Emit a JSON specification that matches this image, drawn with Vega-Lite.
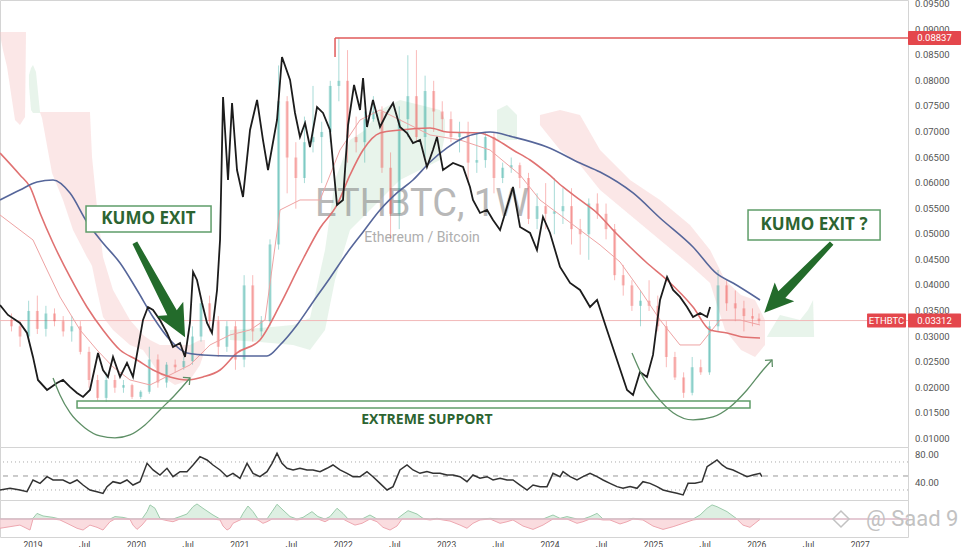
{
"$schema": "https://vega.github.io/schema/vega-lite/v6.json",
"background": "white",
"padding": {"left": -5, "top": -2, "right": 0, "bottom": 0},
"spacing": 0,
"bounds": "flush",
"config": {"view": {"stroke": "#d4d4d4", "strokeWidth": 1}, "text": {"font": "Roboto"}},
"datasets": {
"candles": [
{"t":2018.792,"o":0.0333,"h":0.0345,"l":0.0310,"c":0.0320},
{"t":2018.875,"o":0.0320,"h":0.0330,"l":0.0280,"c":0.0300},
{"t":2018.958,"o":0.0300,"h":0.0370,"l":0.0290,"c":0.0350},
{"t":2019.042,"o":0.0350,"h":0.0380,"l":0.0305,"c":0.0315},
{"t":2019.125,"o":0.0315,"h":0.0360,"l":0.0300,"c":0.0345},
{"t":2019.208,"o":0.0345,"h":0.0355,"l":0.0320,"c":0.0330},
{"t":2019.292,"o":0.0330,"h":0.0340,"l":0.0300,"c":0.0310},
{"t":2019.375,"o":0.0310,"h":0.0340,"l":0.0290,"c":0.0320},
{"t":2019.458,"o":0.0320,"h":0.0330,"l":0.0265,"c":0.0270},
{"t":2019.542,"o":0.0270,"h":0.0280,"l":0.0200,"c":0.0215},
{"t":2019.625,"o":0.0215,"h":0.0225,"l":0.0175,"c":0.0180},
{"t":2019.708,"o":0.0180,"h":0.0230,"l":0.0172,"c":0.0215},
{"t":2019.792,"o":0.0215,"h":0.0225,"l":0.0190,"c":0.0200},
{"t":2019.875,"o":0.0200,"h":0.0215,"l":0.0190,"c":0.0205},
{"t":2019.958,"o":0.0205,"h":0.0208,"l":0.0178,"c":0.0182},
{"t":2020.042,"o":0.0182,"h":0.0195,"l":0.0178,"c":0.0192},
{"t":2020.125,"o":0.0192,"h":0.0280,"l":0.0188,"c":0.0255},
{"t":2020.208,"o":0.0255,"h":0.0265,"l":0.0200,"c":0.0210},
{"t":2020.292,"o":0.0210,"h":0.0250,"l":0.0200,"c":0.0245},
{"t":2020.375,"o":0.0245,"h":0.0255,"l":0.0230,"c":0.0240},
{"t":2020.458,"o":0.0240,"h":0.0260,"l":0.0235,"c":0.0252},
{"t":2020.542,"o":0.0252,"h":0.0320,"l":0.0245,"c":0.0300},
{"t":2020.625,"o":0.0300,"h":0.0370,"l":0.0290,"c":0.0365},
{"t":2020.708,"o":0.0365,"h":0.0380,"l":0.0310,"c":0.0330},
{"t":2020.792,"o":0.0330,"h":0.0340,"l":0.0260,"c":0.0280},
{"t":2020.875,"o":0.0280,"h":0.0330,"l":0.0270,"c":0.0320},
{"t":2020.958,"o":0.0320,"h":0.0330,"l":0.0235,"c":0.0255},
{"t":2021.042,"o":0.0255,"h":0.0420,"l":0.0240,"c":0.0400},
{"t":2021.125,"o":0.0400,"h":0.0420,"l":0.0290,"c":0.0310},
{"t":2021.208,"o":0.0310,"h":0.0340,"l":0.0300,"c":0.0330},
{"t":2021.292,"o":0.0330,"h":0.0490,"l":0.0320,"c":0.0480},
{"t":2021.375,"o":0.0480,"h":0.0830,"l":0.0470,"c":0.0760},
{"t":2021.458,"o":0.0760,"h":0.0770,"l":0.0580,"c":0.0650},
{"t":2021.542,"o":0.0650,"h":0.0680,"l":0.0550,"c":0.0610},
{"t":2021.625,"o":0.0610,"h":0.0730,"l":0.0600,"c":0.0680},
{"t":2021.708,"o":0.0680,"h":0.0790,"l":0.0660,"c":0.0690},
{"t":2021.792,"o":0.0690,"h":0.0720,"l":0.0600,"c":0.0700},
{"t":2021.875,"o":0.0700,"h":0.0800,"l":0.0680,"c":0.0790},
{"t":2021.958,"o":0.0790,"h":0.0884,"l":0.0760,"c":0.0800},
{"t":2022.042,"o":0.0800,"h":0.0860,"l":0.0640,"c":0.0690},
{"t":2022.125,"o":0.0690,"h":0.0730,"l":0.0660,"c":0.0680},
{"t":2022.208,"o":0.0680,"h":0.0740,"l":0.0640,"c":0.0725},
{"t":2022.292,"o":0.0725,"h":0.0770,"l":0.0720,"c":0.0740},
{"t":2022.375,"o":0.0740,"h":0.0750,"l":0.0620,"c":0.0630},
{"t":2022.458,"o":0.0630,"h":0.0660,"l":0.0490,"c":0.0540},
{"t":2022.542,"o":0.0540,"h":0.0750,"l":0.0510,"c":0.0725},
{"t":2022.625,"o":0.0725,"h":0.0850,"l":0.0690,"c":0.0770},
{"t":2022.708,"o":0.0770,"h":0.0860,"l":0.0680,"c":0.0690},
{"t":2022.792,"o":0.0690,"h":0.0810,"l":0.0650,"c":0.0780},
{"t":2022.875,"o":0.0780,"h":0.0800,"l":0.0700,"c":0.0740},
{"t":2022.958,"o":0.0740,"h":0.0760,"l":0.0700,"c":0.0725},
{"t":2023.042,"o":0.0725,"h":0.0740,"l":0.0680,"c":0.0690},
{"t":2023.125,"o":0.0690,"h":0.0720,"l":0.0660,"c":0.0700},
{"t":2023.208,"o":0.0700,"h":0.0720,"l":0.0600,"c":0.0640},
{"t":2023.292,"o":0.0640,"h":0.0700,"l":0.0620,"c":0.0645},
{"t":2023.375,"o":0.0645,"h":0.0700,"l":0.0630,"c":0.0690},
{"t":2023.458,"o":0.0690,"h":0.0700,"l":0.0580,"c":0.0610},
{"t":2023.542,"o":0.0610,"h":0.0640,"l":0.0600,"c":0.0630},
{"t":2023.625,"o":0.0630,"h":0.0650,"l":0.0620,"c":0.0635},
{"t":2023.708,"o":0.0635,"h":0.0640,"l":0.0590,"c":0.0610},
{"t":2023.792,"o":0.0610,"h":0.0620,"l":0.0520,"c":0.0530},
{"t":2023.875,"o":0.0530,"h":0.0580,"l":0.0510,"c":0.0555},
{"t":2023.958,"o":0.0555,"h":0.0600,"l":0.0510,"c":0.0540},
{"t":2024.042,"o":0.0540,"h":0.0610,"l":0.0500,"c":0.0545},
{"t":2024.125,"o":0.0545,"h":0.0590,"l":0.0520,"c":0.0555},
{"t":2024.208,"o":0.0555,"h":0.0590,"l":0.0480,"c":0.0510},
{"t":2024.292,"o":0.0510,"h":0.0530,"l":0.0460,"c":0.0500},
{"t":2024.375,"o":0.0500,"h":0.0570,"l":0.0450,"c":0.0560},
{"t":2024.458,"o":0.0560,"h":0.0580,"l":0.0530,"c":0.0540},
{"t":2024.542,"o":0.0540,"h":0.0560,"l":0.0490,"c":0.0510},
{"t":2024.625,"o":0.0510,"h":0.0520,"l":0.0410,"c":0.0420},
{"t":2024.708,"o":0.0420,"h":0.0440,"l":0.0380,"c":0.0400},
{"t":2024.792,"o":0.0400,"h":0.0410,"l":0.0350,"c":0.0360},
{"t":2024.875,"o":0.0360,"h":0.0390,"l":0.0320,"c":0.0370},
{"t":2024.958,"o":0.0370,"h":0.0410,"l":0.0350,"c":0.0360},
{"t":2025.042,"o":0.0360,"h":0.0380,"l":0.0310,"c":0.0320},
{"t":2025.125,"o":0.0320,"h":0.0330,"l":0.0240,"c":0.0260},
{"t":2025.208,"o":0.0260,"h":0.0270,"l":0.0215,"c":0.0220},
{"t":2025.292,"o":0.0220,"h":0.0230,"l":0.0180,"c":0.0190},
{"t":2025.375,"o":0.0190,"h":0.0260,"l":0.0185,"c":0.0240},
{"t":2025.458,"o":0.0240,"h":0.0255,"l":0.0225,"c":0.0230},
{"t":2025.542,"o":0.0230,"h":0.0330,"l":0.0225,"c":0.0320},
{"t":2025.625,"o":0.0320,"h":0.0430,"l":0.0310,"c":0.0400},
{"t":2025.708,"o":0.0400,"h":0.0410,"l":0.0350,"c":0.0365},
{"t":2025.792,"o":0.0365,"h":0.0390,"l":0.0330,"c":0.0355},
{"t":2025.875,"o":0.0355,"h":0.0370,"l":0.0310,"c":0.0340},
{"t":2025.958,"o":0.0340,"h":0.0355,"l":0.0320,"c":0.0335},
{"t":2026.021,"o":0.0335,"h":0.0345,"l":0.0325,"c":0.0331}
],
"black": [
{"t":2018.681,"v":0.03617},{"t":2018.758,"v":0.03422},{"t":2018.874,"v":0.03265},{"t":2018.942,"v":0.0307},{"t":2019.0,"v":0.02601},{"t":2019.048,"v":0.02151},{"t":2019.136,"v":0.01955},{"t":2019.232,"v":0.02092},{"t":2019.290,"v":0.02151},{"t":2019.358,"v":0.02014},{"t":2019.426,"v":0.01897},{"t":2019.484,"v":0.01819},{"t":2019.551,"v":0.01955},{"t":2019.629,"v":0.02679},{"t":2019.677,"v":0.02346},{"t":2019.725,"v":0.0221},{"t":2019.774,"v":0.02601},{"t":2019.842,"v":0.0221},{"t":2019.909,"v":0.02483},{"t":2019.967,"v":0.0221},{"t":2020.064,"v":0.03324},{"t":2020.112,"v":0.03578},{"t":2020.161,"v":0.03519},{"t":2020.228,"v":0.03324},{"t":2020.296,"v":0.0307},{"t":2020.354,"v":0.02796},{"t":2020.422,"v":0.02874},{"t":2020.470,"v":0.02601},{"t":2020.518,"v":0.03265},{"t":2020.548,"v":0.04262},{"t":2020.586,"v":0.04106},{"t":2020.635,"v":0.03656},{"t":2020.683,"v":0.03265},{"t":2020.731,"v":0.0307},{"t":2020.780,"v":0.0391},{"t":2020.809,"v":0.04888},{"t":2020.838,"v":0.07684},{"t":2020.886,"v":0.06061},{"t":2020.925,"v":0.07566},{"t":2020.973,"v":0.06256},{"t":2021.031,"v":0.05729},{"t":2021.099,"v":0.07038},{"t":2021.167,"v":0.07625},{"t":2021.224,"v":0.06843},{"t":2021.273,"v":0.06256},{"t":2021.360,"v":0.07234},{"t":2021.408,"v":0.08466},{"t":2021.486,"v":0.08016},{"t":2021.534,"v":0.07371},{"t":2021.582,"v":0.06902},{"t":2021.631,"v":0.07175},{"t":2021.679,"v":0.06706},{"t":2021.747,"v":0.07488},{"t":2021.805,"v":0.07371},{"t":2021.872,"v":0.07038},{"t":2021.940,"v":0.05572},{"t":2021.998,"v":0.0567},{"t":2022.047,"v":0.07136},{"t":2022.105,"v":0.07918},{"t":2022.163,"v":0.0743},{"t":2022.192,"v":0.08055},{"t":2022.230,"v":0.07097},{"t":2022.288,"v":0.07625},{"t":2022.356,"v":0.07097},{"t":2022.424,"v":0.07371},{"t":2022.482,"v":0.07566},{"t":2022.549,"v":0.07097},{"t":2022.617,"v":0.0698},{"t":2022.675,"v":0.06784},{"t":2022.743,"v":0.06843},{"t":2022.810,"v":0.06315},{"t":2022.868,"v":0.06647},{"t":2022.907,"v":0.06902},{"t":2022.965,"v":0.06256},{"t":2023.062,"v":0.06393},{"t":2023.159,"v":0.06315},{"t":2023.226,"v":0.05924},{"t":2023.255,"v":0.0567},{"t":2023.323,"v":0.05416},{"t":2023.391,"v":0.05474},{"t":2023.449,"v":0.05279},{"t":2023.517,"v":0.05083},{"t":2023.584,"v":0.05533},{"t":2023.642,"v":0.05924},{"t":2023.710,"v":0.05142},{"t":2023.807,"v":0.05025},{"t":2023.874,"v":0.04692},{"t":2023.932,"v":0.05338},{"t":2024.0,"v":0.05025},{"t":2024.097,"v":0.0436},{"t":2024.194,"v":0.04047},{"t":2024.290,"v":0.0391},{"t":2024.387,"v":0.03578},{"t":2024.455,"v":0.03715},{"t":2024.551,"v":0.03128},{"t":2024.648,"v":0.02542},{"t":2024.745,"v":0.01955},{"t":2024.803,"v":0.01858},{"t":2024.870,"v":0.02307},{"t":2024.938,"v":0.0221},{"t":2024.996,"v":0.0264},{"t":2025.064,"v":0.03715},{"t":2025.132,"v":0.04165},{"t":2025.190,"v":0.0391},{"t":2025.257,"v":0.03774},{"t":2025.325,"v":0.03578},{"t":2025.383,"v":0.03383},{"t":2025.451,"v":0.03461},{"t":2025.519,"v":0.03383},{"t":2025.548,"v":0.03578}
],
"navy": [
{"t":2018.681,"v":0.0567},{"t":2018.874,"v":0.05865},{"t":2019.039,"v":0.06022},{"t":2019.194,"v":0.06061},{"t":2019.358,"v":0.05807},{"t":2019.522,"v":0.0524},{"t":2019.677,"v":0.04829},{"t":2019.842,"v":0.04438},{"t":2020.006,"v":0.0391},{"t":2020.161,"v":0.03383},{"t":2020.325,"v":0.02933},{"t":2020.489,"v":0.02679},{"t":2020.644,"v":0.0264},{"t":2020.934,"v":0.0262},{"t":2021.263,"v":0.0262},{"t":2021.389,"v":0.02835},{"t":2021.553,"v":0.03226},{"t":2021.708,"v":0.03676},{"t":2021.872,"v":0.04145},{"t":2022.037,"v":0.04634},{"t":2022.192,"v":0.05044},{"t":2022.356,"v":0.05474},{"t":2022.520,"v":0.05807},{"t":2022.675,"v":0.06061},{"t":2022.840,"v":0.06413},{"t":2023.004,"v":0.06687},{"t":2023.159,"v":0.06882},{"t":2023.323,"v":0.0698},{"t":2023.420,"v":0.06999},{"t":2023.642,"v":0.06902},{"t":2023.971,"v":0.06706},{"t":2024.290,"v":0.06393},{"t":2024.484,"v":0.06217},{"t":2024.803,"v":0.05807},{"t":2025.064,"v":0.05318},{"t":2025.383,"v":0.04751},{"t":2025.615,"v":0.04223},{"t":2025.770,"v":0.04047},{"t":2026.031,"v":0.03715}
],
"redma": [
{"t":2018.681,"v":0.06589},{"t":2018.874,"v":0.06159},{"t":2018.971,"v":0.05924},{"t":2019.068,"v":0.05416},{"t":2019.194,"v":0.04829},{"t":2019.358,"v":0.04165},{"t":2019.522,"v":0.03578},{"t":2019.677,"v":0.03128},{"t":2019.842,"v":0.02737},{"t":2020.006,"v":0.02542},{"t":2020.161,"v":0.02346},{"t":2020.325,"v":0.0221},{"t":2020.489,"v":0.02151},{"t":2020.644,"v":0.0221},{"t":2020.809,"v":0.02346},{"t":2020.973,"v":0.02679},{"t":2021.195,"v":0.02933},{"t":2021.389,"v":0.03617},{"t":2021.582,"v":0.04399},{"t":2021.776,"v":0.05123},{"t":2021.940,"v":0.05572},{"t":2022.066,"v":0.06159},{"t":2022.192,"v":0.06647},{"t":2022.356,"v":0.0698},{"t":2022.549,"v":0.07038},{"t":2022.840,"v":0.07078},{"t":2023.004,"v":0.06999},{"t":2023.323,"v":0.0698},{"t":2023.487,"v":0.06843},{"t":2023.642,"v":0.06647},{"t":2023.807,"v":0.06452},{"t":2023.971,"v":0.06198},{"t":2024.126,"v":0.05924},{"t":2024.290,"v":0.0567},{"t":2024.455,"v":0.05416},{"t":2024.609,"v":0.05083},{"t":2024.774,"v":0.04751},{"t":2024.938,"v":0.04438},{"t":2025.132,"v":0.04106},{"t":2025.383,"v":0.03578},{"t":2025.548,"v":0.03128},{"t":2025.712,"v":0.0307},{"t":2025.866,"v":0.02992},{"t":2026.031,"v":0.02972}
],
"kijun": [
{"t":2018.681,"v":0.05377},{"t":2019.0,"v":0.04888},{"t":2019.136,"v":0.04302},{"t":2019.261,"v":0.03774},{"t":2019.455,"v":0.03128},{"t":2019.619,"v":0.02737},{"t":2019.774,"v":0.02405},{"t":2019.938,"v":0.02151},{"t":2020.132,"v":0.02053},{"t":2020.325,"v":0.02249},{"t":2020.518,"v":0.02444},{"t":2020.712,"v":0.02835},{"t":2020.905,"v":0.0303},{"t":2021.099,"v":0.03128},{"t":2021.244,"v":0.03324},{"t":2021.389,"v":0.05474},{"t":2021.582,"v":0.0567},{"t":2021.776,"v":0.0567},{"t":2021.969,"v":0.06647},{"t":2022.163,"v":0.07234},{"t":2022.356,"v":0.0743},{"t":2022.549,"v":0.07234},{"t":2022.840,"v":0.06941},{"t":2023.130,"v":0.06843},{"t":2023.420,"v":0.06647},{"t":2023.710,"v":0.06159},{"t":2023.903,"v":0.0567},{"t":2024.097,"v":0.05377},{"t":2024.290,"v":0.05083},{"t":2024.484,"v":0.0479},{"t":2024.677,"v":0.04458},{"t":2024.871,"v":0.0391},{"t":2025.064,"v":0.03324},{"t":2025.257,"v":0.02835},{"t":2025.451,"v":0.02835},{"t":2025.644,"v":0.03324},{"t":2025.838,"v":0.03324},{"t":2026.031,"v":0.03226}
],
"cloud": [
{"s":"A","k":"bear","t":2018.681,"hi":0.08954,"lo":0.08896},
{"s":"A","k":"bear","t":2018.710,"hi":0.08954,"lo":0.08603},
{"s":"A","k":"bear","t":2018.749,"hi":0.08954,"lo":0.0827},
{"s":"A","k":"bear","t":2018.797,"hi":0.08954,"lo":0.07625},
{"s":"A","k":"bear","t":2018.826,"hi":0.08954,"lo":0.07234},
{"s":"A","k":"bear","t":2018.874,"hi":0.08954,"lo":0.07136},
{"s":"A","k":"bear","t":2018.923,"hi":0.08954,"lo":0.07293},
{"s":"A","k":"bear","t":2018.932,"hi":0.08954,"lo":0.0885},
{"s":"B","k":"bull","t":2018.961,"hi":0.08114,"lo":0.07918},
{"s":"B","k":"bull","t":2018.981,"hi":0.08251,"lo":0.0743},
{"s":"B","k":"bull","t":2019.0,"hi":0.08309,"lo":0.07371},
{"s":"B","k":"bull","t":2019.029,"hi":0.08172,"lo":0.07371},
{"s":"B","k":"bull","t":2019.068,"hi":0.0739,"lo":0.07371},
{"s":"C","k":"bear","t":2019.068,"hi":0.0739,"lo":0.0738},
{"s":"C","k":"bear","t":2019.087,"hi":0.0739,"lo":0.07273},
{"s":"C","k":"bear","t":2019.184,"hi":0.0739,"lo":0.06198},
{"s":"C","k":"bear","t":2019.290,"hi":0.0739,"lo":0.0567},
{"s":"C","k":"bear","t":2019.387,"hi":0.0739,"lo":0.05083},
{"s":"C","k":"bear","t":2019.522,"hi":0.0739,"lo":0.04556},
{"s":"C","k":"bear","t":2019.551,"hi":0.0739,"lo":0.04458},
{"s":"C","k":"bear","t":2019.571,"hi":0.06511,"lo":0.0438},
{"s":"C","k":"bear","t":2019.619,"hi":0.05533,"lo":0.0391},
{"s":"C","k":"bear","t":2019.677,"hi":0.04556,"lo":0.03383},
{"s":"C","k":"bear","t":2019.774,"hi":0.0391,"lo":0.03128},
{"s":"C","k":"bear","t":2019.938,"hi":0.03324,"lo":0.02835},
{"s":"C","k":"bear","t":2020.064,"hi":0.0303,"lo":0.02737},
{"s":"C","k":"bear","t":2020.132,"hi":0.02933,"lo":0.02542},
{"s":"C","k":"bear","t":2020.228,"hi":0.02835,"lo":0.02249},
{"s":"C","k":"bear","t":2020.373,"hi":0.02835,"lo":0.02053},
{"s":"C","k":"bear","t":2020.518,"hi":0.02835,"lo":0.02151},
{"s":"C","k":"bear","t":2020.615,"hi":0.02933,"lo":0.02444},
{"s":"C","k":"bear","t":2020.664,"hi":0.02933,"lo":0.02737},
{"s":"E","k":"bull","t":2020.905,"hi":0.03128,"lo":0.02933},
{"s":"E","k":"bull","t":2021.195,"hi":0.03168,"lo":0.02894},
{"s":"E","k":"bull","t":2021.515,"hi":0.03226,"lo":0.02835},
{"s":"E","k":"bull","t":2021.679,"hi":0.03363,"lo":0.02737},
{"s":"E","k":"bull","t":2021.824,"hi":0.04692,"lo":0.03128},
{"s":"E","k":"bull","t":2021.921,"hi":0.06061,"lo":0.04106},
{"s":"E","k":"bull","t":2022.066,"hi":0.06843,"lo":0.05083},
{"s":"E","k":"bull","t":2022.211,"hi":0.07038,"lo":0.05377},
{"s":"E","k":"bull","t":2022.356,"hi":0.0743,"lo":0.0567},
{"s":"E","k":"bull","t":2022.549,"hi":0.07625,"lo":0.06061},
{"s":"E","k":"bull","t":2022.743,"hi":0.07527,"lo":0.06256},
{"s":"E","k":"bull","t":2022.936,"hi":0.0743,"lo":0.06452},
{"s":"E","k":"bull","t":2022.985,"hi":0.07234,"lo":0.06941},
{"s":"G","k":"bull","t":2023.487,"hi":0.0743,"lo":0.06843},
{"s":"G","k":"bull","t":2023.584,"hi":0.07527,"lo":0.06843},
{"s":"G","k":"bull","t":2023.681,"hi":0.07332,"lo":0.06843},
{"s":"H","k":"bear","t":2023.903,"hi":0.07332,"lo":0.07136},
{"s":"H","k":"bear","t":2024.097,"hi":0.0743,"lo":0.06647},
{"s":"H","k":"bear","t":2024.290,"hi":0.07332,"lo":0.06354},
{"s":"H","k":"bear","t":2024.484,"hi":0.06647,"lo":0.05865},
{"s":"H","k":"bear","t":2024.774,"hi":0.06061,"lo":0.05377},
{"s":"H","k":"bear","t":2025.064,"hi":0.0567,"lo":0.04888},
{"s":"H","k":"bear","t":2025.354,"hi":0.05181,"lo":0.04399},
{"s":"H","k":"bear","t":2025.548,"hi":0.04692,"lo":0.04048},
{"s":"H","k":"bear","t":2025.692,"hi":0.04106,"lo":0.03128},
{"s":"H","k":"bear","t":2025.847,"hi":0.03813,"lo":0.02737},
{"s":"H","k":"bear","t":2025.983,"hi":0.03715,"lo":0.02601},
{"s":"H","k":"bear","t":2026.079,"hi":0.03324,"lo":0.02835},
{"s":"I","k":"bull","t":2026.099,"hi":0.03,"lo":0.02992},
{"s":"I","k":"bull","t":2026.224,"hi":0.03422,"lo":0.02992},
{"s":"I","k":"bull","t":2026.418,"hi":0.03324,"lo":0.02992},
{"s":"I","k":"bull","t":2026.495,"hi":0.03519,"lo":0.02992},
{"s":"I","k":"bull","t":2026.544,"hi":0.03715,"lo":0.02992},
{"s":"I","k":"bull","t":2026.554,"hi":0.03,"lo":0.02992}
],
"arcs": [
{"a":"L","t":2019.194,"v":0.0219},{"a":"L","t":2019.261,"v":0.01858},{"a":"L","t":2019.358,"v":0.0151},{"a":"L","t":2019.503,"v":0.01213},{"a":"L","t":2019.648,"v":0.01056},{"a":"L","t":2019.793,"v":0.01017},{"a":"L","t":2019.938,"v":0.01076},{"a":"L","t":2020.083,"v":0.01271},{"a":"L","t":2020.228,"v":0.01565},{"a":"L","t":2020.373,"v":0.01858},{"a":"L","t":2020.518,"v":0.0219},
{"a":"R","t":2024.793,"v":0.02679},{"a":"R","t":2024.899,"v":0.0221},{"a":"R","t":2025.035,"v":0.01819},{"a":"R","t":2025.190,"v":0.0151},{"a":"R","t":2025.383,"v":0.01369},{"a":"R","t":2025.576,"v":0.01428},{"a":"R","t":2025.741,"v":0.01623},{"a":"R","t":2025.905,"v":0.01955},{"a":"R","t":2026.060,"v":0.02346},{"a":"R","t":2026.147,"v":0.02542}
],
"ylabels": [
{"v":0.01},{"v":0.015},{"v":0.02},{"v":0.025},{"v":0.03},{"v":0.035},{"v":0.04},{"v":0.045},{"v":0.05},{"v":0.055},{"v":0.06},{"v":0.065},{"v":0.07},{"v":0.075},{"v":0.08},{"v":0.085},{"v":0.09},{"v":0.095}
],
"xlabels": [
{"t":2019,"lab":"2019"},{"t":2019.5,"lab":"Jul"},{"t":2020,"lab":"2020"},{"t":2020.5,"lab":"Jul"},{"t":2021,"lab":"2021"},{"t":2021.5,"lab":"Jul"},{"t":2022,"lab":"2022"},{"t":2022.5,"lab":"Jul"},{"t":2023,"lab":"2023"},{"t":2023.5,"lab":"Jul"},{"t":2024,"lab":"2024"},{"t":2024.5,"lab":"Jul"},{"t":2025,"lab":"2025"},{"t":2025.5,"lab":"Jul"},{"t":2026,"lab":"2026"},{"t":2026.5,"lab":"Jul"},{"t":2027,"lab":"2027"}
],
"rsi": [
{"t":2018.681,"r":30.0},{"t":2018.778,"r":32.4},{"t":2018.874,"r":30.0},{"t":2018.942,"r":27.6},{"t":2019.0,"r":44.3},{"t":2019.068,"r":39.5},{"t":2019.136,"r":49.0},{"t":2019.194,"r":44.3},{"t":2019.290,"r":44.3},{"t":2019.358,"r":39.5},{"t":2019.426,"r":44.3},{"t":2019.484,"r":37.1},{"t":2019.551,"r":30.0},{"t":2019.619,"r":27.6},{"t":2019.677,"r":25.2},{"t":2019.716,"r":34.8},{"t":2019.774,"r":41.9},{"t":2019.842,"r":39.5},{"t":2019.909,"r":44.3},{"t":2019.967,"r":37.1},{"t":2020.035,"r":41.9},{"t":2020.103,"r":68.1},{"t":2020.161,"r":58.6},{"t":2020.228,"r":51.4},{"t":2020.296,"r":61.0},{"t":2020.354,"r":49.0},{"t":2020.422,"r":56.2},{"t":2020.489,"r":56.2},{"t":2020.548,"r":65.7},{"t":2020.615,"r":77.6},{"t":2020.683,"r":72.9},{"t":2020.741,"r":65.7},{"t":2020.809,"r":58.6},{"t":2020.876,"r":49.0},{"t":2020.934,"r":53.8},{"t":2021.002,"r":46.7},{"t":2021.070,"r":68.1},{"t":2021.128,"r":53.8},{"t":2021.195,"r":49.0},{"t":2021.263,"r":56.2},{"t":2021.312,"r":68.1},{"t":2021.360,"r":82.4},{"t":2021.408,"r":68.1},{"t":2021.457,"r":61.0},{"t":2021.515,"r":58.6},{"t":2021.582,"r":61.0},{"t":2021.650,"r":58.6},{"t":2021.708,"r":58.6},{"t":2021.776,"r":56.2},{"t":2021.843,"r":61.0},{"t":2021.901,"r":65.7},{"t":2021.969,"r":58.6},{"t":2022.037,"r":53.8},{"t":2022.095,"r":49.0},{"t":2022.163,"r":49.0},{"t":2022.230,"r":56.2},{"t":2022.288,"r":49.0},{"t":2022.356,"r":39.5},{"t":2022.424,"r":30.0},{"t":2022.482,"r":34.8},{"t":2022.549,"r":58.6},{"t":2022.617,"r":65.7},{"t":2022.675,"r":58.6},{"t":2022.743,"r":53.8},{"t":2022.810,"r":56.2},{"t":2022.868,"r":53.8},{"t":2022.936,"r":53.8},{"t":2023.004,"r":51.4},{"t":2023.062,"r":51.4},{"t":2023.130,"r":49.0},{"t":2023.197,"r":41.9},{"t":2023.255,"r":51.4},{"t":2023.323,"r":46.7},{"t":2023.391,"r":49.0},{"t":2023.449,"r":44.3},{"t":2023.517,"r":46.7},{"t":2023.584,"r":44.3},{"t":2023.642,"r":44.3},{"t":2023.710,"r":37.1},{"t":2023.778,"r":30.0},{"t":2023.836,"r":37.1},{"t":2023.903,"r":34.8},{"t":2023.971,"r":34.8},{"t":2024.029,"r":53.8},{"t":2024.097,"r":49.0},{"t":2024.126,"r":56.2},{"t":2024.194,"r":49.0},{"t":2024.261,"r":44.3},{"t":2024.319,"r":49.0},{"t":2024.387,"r":53.8},{"t":2024.455,"r":49.0},{"t":2024.513,"r":44.3},{"t":2024.580,"r":39.5},{"t":2024.648,"r":34.8},{"t":2024.706,"r":32.4},{"t":2024.774,"r":34.8},{"t":2024.841,"r":32.4},{"t":2024.899,"r":41.9},{"t":2024.967,"r":39.5},{"t":2025.035,"r":34.8},{"t":2025.093,"r":30.0},{"t":2025.161,"r":27.6},{"t":2025.228,"r":25.2},{"t":2025.287,"r":22.9},{"t":2025.335,"r":39.5},{"t":2025.402,"r":39.5},{"t":2025.470,"r":41.9},{"t":2025.519,"r":63.3},{"t":2025.567,"r":68.1},{"t":2025.615,"r":72.9},{"t":2025.664,"r":65.7},{"t":2025.712,"r":61.0},{"t":2025.770,"r":58.6},{"t":2025.838,"r":53.8},{"t":2025.905,"r":49.0},{"t":2025.963,"r":51.4},{"t":2026.031,"r":53.8},{"t":2026.050,"r":49.0}
],
"macd": [
{"t":2018.681,"h":-0.58},{"t":2018.778,"h":-0.48},{"t":2018.874,"h":-0.38},{"t":2018.971,"h":-0.69},{"t":2019.0,"h":0.04},{"t":2019.039,"h":0.35},{"t":2019.097,"h":0.19},{"t":2019.194,"h":0.10},{"t":2019.261,"h":-0.06},{"t":2019.329,"h":-0.27},{"t":2019.426,"h":-0.58},{"t":2019.484,"h":-0.69},{"t":2019.551,"h":-0.38},{"t":2019.619,"h":-0.52},{"t":2019.677,"h":-0.69},{"t":2019.745,"h":-0.17},{"t":2019.793,"h":0.15},{"t":2019.871,"h":0.10},{"t":2019.938,"h":-0.02},{"t":2019.967,"h":-0.38},{"t":2020.006,"h":-0.65},{"t":2020.054,"h":-0.38},{"t":2020.103,"h":0.46},{"t":2020.132,"h":0.88},{"t":2020.180,"h":0.67},{"t":2020.228,"h":0.04},{"t":2020.296,"h":-0.10},{"t":2020.354,"h":-0.17},{"t":2020.422,"h":0.15},{"t":2020.489,"h":0.31},{"t":2020.548,"h":0.77},{"t":2020.586,"h":0.94},{"t":2020.644,"h":0.67},{"t":2020.741,"h":0.25},{"t":2020.809,"h":-0.06},{"t":2020.838,"h":-0.44},{"t":2020.876,"h":-0.69},{"t":2020.905,"h":-0.58},{"t":2020.934,"h":-0.27},{"t":2021.002,"h":-0.06},{"t":2021.031,"h":0.35},{"t":2021.079,"h":0.81},{"t":2021.128,"h":0.46},{"t":2021.176,"h":-0.06},{"t":2021.224,"h":-0.27},{"t":2021.263,"h":-0.17},{"t":2021.312,"h":0.46},{"t":2021.360,"h":0.92},{"t":2021.418,"h":0.56},{"t":2021.486,"h":0.15},{"t":2021.553,"h":-0.06},{"t":2021.611,"h":0.10},{"t":2021.698,"h":0.46},{"t":2021.756,"h":0.15},{"t":2021.824,"h":-0.17},{"t":2021.872,"h":0.15},{"t":2021.940,"h":0.67},{"t":2021.998,"h":0.35},{"t":2022.047,"h":-0.17},{"t":2022.114,"h":-0.38},{"t":2022.182,"h":-0.27},{"t":2022.259,"h":0.25},{"t":2022.327,"h":-0.17},{"t":2022.385,"h":-0.52},{"t":2022.453,"h":-0.69},{"t":2022.520,"h":-0.44},{"t":2022.569,"h":0.25},{"t":2022.627,"h":0.52},{"t":2022.714,"h":0.31},{"t":2022.772,"h":0.04},{"t":2022.840,"h":-0.06},{"t":2022.907,"h":0.04},{"t":2022.965,"h":-0.06},{"t":2023.033,"h":-0.13},{"t":2023.130,"h":-0.38},{"t":2023.197,"h":-0.58},{"t":2023.255,"h":-0.27},{"t":2023.323,"h":-0.06},{"t":2023.420,"h":0.04},{"t":2023.517,"h":-0.27},{"t":2023.584,"h":-0.17},{"t":2023.642,"h":-0.06},{"t":2023.739,"h":-0.44},{"t":2023.836,"h":-0.65},{"t":2023.932,"h":-0.38},{"t":2024.029,"h":0.25},{"t":2024.097,"h":0.04},{"t":2024.164,"h":0.15},{"t":2024.261,"h":-0.27},{"t":2024.319,"h":-0.17},{"t":2024.387,"h":0.15},{"t":2024.455,"h":0.35},{"t":2024.513,"h":-0.06},{"t":2024.580,"h":-0.06},{"t":2024.677,"h":-0.31},{"t":2024.745,"h":-0.17},{"t":2024.803,"h":0.04},{"t":2024.899,"h":-0.06},{"t":2024.996,"h":-0.44},{"t":2025.093,"h":-0.65},{"t":2025.190,"h":-0.48},{"t":2025.287,"h":-0.27},{"t":2025.383,"h":-0.06},{"t":2025.451,"h":0.25},{"t":2025.519,"h":0.67},{"t":2025.567,"h":0.88},{"t":2025.615,"h":0.77},{"t":2025.712,"h":0.46},{"t":2025.809,"h":-0.02},{"t":2025.866,"h":-0.38},{"t":2025.934,"h":-0.52},{"t":2026.002,"h":-0.17},{"t":2026.031,"h":-0.02}
]
},
"vconcat": [
{
"width": 908, "height": 447,
"layer": [
{"data": {"name": "cloud"}, "mark": {"type": "area", "opacity": 0.4},
 "encoding": {
  "x": {"field": "t", "type": "quantitative", "scale": {"domain": [2018.681, 2027.462], "nice": false, "zero": false}, "axis": null},
  "y": {"field": "hi", "type": "quantitative", "scale": {"domain": [0.0084, 0.0958], "nice": false, "zero": false}, "axis": null},
  "y2": {"field": "lo"},
  "color": {"field": "k", "type": "nominal", "scale": {"domain": ["bear", "bull"], "range": ["#f6c4c4", "#c6e4cd"]}, "legend": null},
  "detail": {"field": "s"}}},
{"data": {"name": "ylabels"}, "mark": {"type": "text", "fontSize": 9.5, "color": "#555555", "align": "left", "baseline": "middle"},
 "encoding": {"x": {"datum": 2027.53, "type": "quantitative", "axis": null}, "y": {"field": "v", "type": "quantitative", "axis": null}, "text": {"field": "v", "type": "quantitative", "format": ".5f"}}},
{"data": {"values": [{"t": 2022.762, "v": 0.05572, "txt": "ETHBTC, 1W"}]}, "mark": {"type": "text", "fontSize": 38, "color": "#8a8a8a", "opacity": 0.6},
 "encoding": {"x": {"field": "t", "type": "quantitative", "axis": null}, "y": {"field": "v", "type": "quantitative", "axis": null}, "text": {"field": "txt"}}},
{"data": {"values": [{"t": 2022.762, "v": 0.04927, "txt": "Ethereum / Bitcoin"}]}, "mark": {"type": "text", "fontSize": 14, "color": "#9a9a9a", "opacity": 0.8},
 "encoding": {"x": {"field": "t", "type": "quantitative", "axis": null}, "y": {"field": "v", "type": "quantitative", "axis": null}, "text": {"field": "txt"}}},
{"data": {"values": [{"v": 0.03312}]}, "mark": {"type": "rule", "color": "#f2b8b8", "strokeWidth": 1},
 "encoding": {"y": {"field": "v", "type": "quantitative", "axis": null}}},
{"data": {"name": "candles"}, "mark": {"type": "rule", "strokeWidth": 1, "opacity": 0.4},
 "encoding": {"x": {"field": "t", "type": "quantitative", "axis": null}, "y": {"field": "l", "type": "quantitative", "axis": null}, "y2": {"field": "h"},
  "color": {"condition": {"test": "datum.c >= datum.o", "value": "#26a69a"}, "value": "#ef5350"}}},
{"data": {"name": "candles"}, "mark": {"type": "rule", "strokeWidth": 3, "opacity": 0.35},
 "encoding": {"x": {"field": "t", "type": "quantitative", "axis": null}, "y": {"field": "o", "type": "quantitative", "axis": null}, "y2": {"field": "c"},
  "color": {"condition": {"test": "datum.c >= datum.o", "value": "#26a69a"}, "value": "#ef5350"}}},
{"data": {"name": "kijun"}, "mark": {"type": "line", "color": "#eea3a3", "strokeWidth": 1},
 "encoding": {"x": {"field": "t", "type": "quantitative", "axis": null}, "y": {"field": "v", "type": "quantitative", "axis": null}}},
{"data": {"name": "redma"}, "mark": {"type": "line", "color": "#e07272", "strokeWidth": 1.6, "interpolate": "monotone"},
 "encoding": {"x": {"field": "t", "type": "quantitative", "axis": null}, "y": {"field": "v", "type": "quantitative", "axis": null}}},
{"data": {"name": "navy"}, "mark": {"type": "line", "color": "#56669a", "strokeWidth": 1.6, "interpolate": "monotone"},
 "encoding": {"x": {"field": "t", "type": "quantitative", "axis": null}, "y": {"field": "v", "type": "quantitative", "axis": null}}},
{"data": {"name": "black"}, "mark": {"type": "line", "color": "#1c1c1c", "strokeWidth": 1.8},
 "encoding": {"x": {"field": "t", "type": "quantitative", "axis": null}, "y": {"field": "v", "type": "quantitative", "axis": null}}},
{"data": {"values": [{"t1": 2021.921, "t2": 2027.462, "v": 0.08837}]}, "mark": {"type": "rule", "color": "#e05a5a", "strokeWidth": 1.5},
 "encoding": {"x": {"field": "t1", "type": "quantitative", "axis": null}, "x2": {"field": "t2"}, "y": {"field": "v", "type": "quantitative", "axis": null}}},
{"data": {"values": [{"t": 2021.921, "v1": 0.08466, "v2": 0.08837}]}, "mark": {"type": "rule", "color": "#e05a5a", "strokeWidth": 1.5},
 "encoding": {"x": {"field": "t", "type": "quantitative", "axis": null}, "y": {"field": "v1", "type": "quantitative", "axis": null}, "y2": {"field": "v2"}}},
{"data": {"name": "arcs"}, "mark": {"type": "line", "color": "#5e8f66", "strokeWidth": 1.3, "interpolate": "monotone"},
 "encoding": {"x": {"field": "t", "type": "quantitative", "axis": null}, "y": {"field": "v", "type": "quantitative", "axis": null}, "detail": {"field": "a"}}},
{"data": {"values": [{"t": 2020.518, "v": 0.0219}]}, "mark": {"type": "point", "shape": "M -1 -1 L 0 0 L -1 1", "filled": false, "stroke": "#5e8f66", "strokeWidth": 1.3, "size": 100, "angle": -40, "opacity": 1},
 "encoding": {"x": {"field": "t", "type": "quantitative", "axis": null}, "y": {"field": "v", "type": "quantitative", "axis": null}}},
{"data": {"values": [{"t": 2026.147, "v": 0.02542}]}, "mark": {"type": "point", "shape": "M -1 -1 L 0 0 L -1 1", "filled": false, "stroke": "#5e8f66", "strokeWidth": 1.3, "size": 100, "angle": -48, "opacity": 1},
 "encoding": {"x": {"field": "t", "type": "quantitative", "axis": null}, "y": {"field": "v", "type": "quantitative", "axis": null}}},
{"data": {"values": [{"t1": 2019.426, "t2": 2025.934, "v1": 0.01604, "v2": 0.0174}]}, "mark": {"type": "rect", "fillOpacity": 0, "stroke": "#5f9d69", "strokeWidth": 1.5},
 "encoding": {"x": {"field": "t1", "type": "quantitative", "axis": null}, "x2": {"field": "t2"}, "y": {"field": "v1", "type": "quantitative", "axis": null}, "y2": {"field": "v2"}}},
{"data": {"values": [{"t1": 2019.513, "t2": 2020.722, "v1": 0.05044, "v2": 0.05553}, {"t1": 2025.915, "t2": 2027.192, "v1": 0.04888, "v2": 0.05474}]}, "mark": {"type": "rect", "fill": "white", "stroke": "#5f9d69", "strokeWidth": 1.5},
 "encoding": {"x": {"field": "t1", "type": "quantitative", "axis": null}, "x2": {"field": "t2"}, "y": {"field": "v1", "type": "quantitative", "axis": null}, "y2": {"field": "v2"}}},
{"data": {"values": [{"t": 2020.117, "v": 0.05299, "txt": "KUMO EXIT"}, {"t": 2026.553, "v": 0.05181, "txt": "KUMO EXIT ?"}]}, "mark": {"type": "text", "font": "Open Sans", "fontWeight": "bold", "fontSize": 17, "color": "#2c6431"},
 "encoding": {"x": {"field": "t", "type": "quantitative", "axis": null}, "y": {"field": "v", "type": "quantitative", "axis": null}, "text": {"field": "txt"}}},
{"data": {"values": [{"t": 2022.81, "v": 0.01369, "txt": "EXTREME SUPPORT"}]}, "mark": {"type": "text", "font": "Open Sans", "fontWeight": "bold", "fontSize": 14, "color": "#2c6431"},
 "encoding": {"x": {"field": "t", "type": "quantitative", "axis": null}, "y": {"field": "v", "type": "quantitative", "axis": null}, "text": {"field": "txt"}}},
{"data": {"values": [{"t": 2020.228, "v": 0.0391}]}, "mark": {"type": "point", "shape": "M -1 -0.05 L 0.48 -0.1 L 0.4 -0.28 L 1 0 L 0.4 0.28 L 0.48 0.1 L -1 0.05 Z", "filled": true, "color": "#236b2b", "opacity": 1, "size": 11449, "angle": 62},
 "encoding": {"x": {"field": "t", "type": "quantitative", "axis": null}, "y": {"field": "v", "type": "quantitative", "axis": null}}},
{"data": {"values": [{"t": 2026.398, "v": 0.04145}]}, "mark": {"type": "point", "shape": "M -1 -0.05 L 0.48 -0.1 L 0.4 -0.28 L 1 0 L 0.4 0.28 L 0.48 0.1 L -1 0.05 Z", "filled": true, "color": "#236b2b", "opacity": 1, "size": 9409, "angle": 134},
 "encoding": {"x": {"field": "t", "type": "quantitative", "axis": null}, "y": {"field": "v", "type": "quantitative", "axis": null}}},
{"data": {"values": [{"t1": 2027.462, "t2": 2027.975, "v1": 0.0870, "v2": 0.08974}, {"t1": 2027.066, "t2": 2027.443, "v1": 0.03175, "v2": 0.03449}, {"t1": 2027.462, "t2": 2027.975, "v1": 0.03175, "v2": 0.03449}]}, "mark": {"type": "rect", "color": "#e4474c", "cornerRadius": 1},
 "encoding": {"x": {"field": "t1", "type": "quantitative", "axis": null}, "x2": {"field": "t2"}, "y": {"field": "v1", "type": "quantitative", "axis": null}, "y2": {"field": "v2"}}},
{"data": {"values": [{"t": 2027.718, "v": 0.08837, "txt": "0.08837"}, {"t": 2027.254, "v": 0.03312, "txt": "ETHBTC"}, {"t": 2027.718, "v": 0.03312, "txt": "0.03312"}]}, "mark": {"type": "text", "fontSize": 9.5, "color": "white"},
 "encoding": {"x": {"field": "t", "type": "quantitative", "axis": null}, "y": {"field": "v", "type": "quantitative", "axis": null}, "text": {"field": "txt"}}}
]
},
{
"width": 908, "height": 53,
"layer": [
{"data": {"values": [{"r": 70}, {"r": 30}]}, "mark": {"type": "rule", "color": "#aaaaaa", "strokeDash": [1, 3], "strokeWidth": 1},
 "encoding": {"y": {"field": "r", "type": "quantitative", "scale": {"domain": [15.7, 91.4], "nice": false, "zero": false}, "axis": null}}},
{"data": {"values": [{"r": 50}]}, "mark": {"type": "rule", "color": "#999999", "strokeDash": [5, 5], "strokeWidth": 1},
 "encoding": {"y": {"field": "r", "type": "quantitative", "axis": null}}},
{"data": {"name": "rsi"}, "mark": {"type": "line", "color": "#333333", "strokeWidth": 1.5},
 "encoding": {"x": {"field": "t", "type": "quantitative", "scale": {"domain": [2018.681, 2027.462], "nice": false, "zero": false}, "axis": null},
  "y": {"field": "r", "type": "quantitative", "axis": null}}},
{"data": {"values": [{"r": 80}, {"r": 40}]}, "mark": {"type": "text", "fontSize": 9.5, "color": "#555555", "align": "left", "baseline": "middle"},
 "encoding": {"x": {"datum": 2027.53, "type": "quantitative", "axis": null}, "y": {"field": "r", "type": "quantitative", "axis": null}, "text": {"field": "r", "type": "quantitative", "format": ".2f"}}}
]
},
{
"width": 908, "height": 37,
"resolve": {"scale": {"y": "independent"}},
"layer": [
{"data": {"name": "macd"}, "mark": {"type": "area", "color": "#cfe8d6", "line": {"color": "#9ccbab", "strokeWidth": 1}},
 "encoding": {"x": {"field": "t", "type": "quantitative", "scale": {"domain": [2018.681, 2027.462], "nice": false, "zero": false}, "axis": null},
  "y": {"field": "h", "type": "quantitative", "scale": {"domain": [0, 1], "range": [19, 3], "clamp": true, "nice": false, "zero": false}, "axis": null},
  "y2": {"datum": 0}}},
{"data": {"name": "macd"}, "mark": {"type": "area", "color": "#f8cdd2", "line": {"color": "#eea7b0", "strokeWidth": 1}},
 "encoding": {"x": {"field": "t", "type": "quantitative", "axis": null},
  "y": {"field": "h", "type": "quantitative", "scale": {"domain": [-1, 0], "range": [35, 19], "clamp": true, "nice": false, "zero": false}, "axis": null},
  "y2": {"datum": 0}}},
{"data": {"values": [{"z": 0}]}, "mark": {"type": "rule", "color": "#dcb8c6", "strokeWidth": 1.5},
 "encoding": {"y": {"field": "z", "type": "quantitative", "scale": {"domain": [0, 1], "range": [19, 3], "nice": false, "zero": false}, "axis": null}}},
{"data": {"values": [{"t": 2026.814, "z": 0}]}, "mark": {"type": "point", "shape": "diamond", "filled": false, "stroke": "#c2c2c2", "strokeWidth": 1.5, "size": 260, "opacity": 1},
 "encoding": {"x": {"field": "t", "type": "quantitative", "axis": null}, "y": {"field": "z", "type": "quantitative", "scale": {"domain": [0, 1], "range": [19, 3], "nice": false, "zero": false}, "axis": null}}},
{"data": {"values": [{"t": 2027.056, "z": 0, "txt": "@ Saad 9"}]}, "mark": {"type": "text", "fontSize": 22, "color": "#c2c2c2", "align": "left", "baseline": "middle"},
 "encoding": {"x": {"field": "t", "type": "quantitative", "axis": null}, "y": {"field": "z", "type": "quantitative", "scale": {"domain": [0, 1], "range": [19, 3], "nice": false, "zero": false}, "axis": null}, "text": {"field": "txt"}}},
{"data": {"name": "xlabels"}, "mark": {"type": "text", "fontSize": 8.5, "color": "#444444", "baseline": "middle"},
 "encoding": {"x": {"field": "t", "type": "quantitative", "axis": null}, "y": {"datum": -1.6, "type": "quantitative", "scale": {"domain": [0, 1], "range": [19, 3], "nice": false, "zero": false}, "axis": null}, "text": {"field": "lab"}}}
]
}
]
}
